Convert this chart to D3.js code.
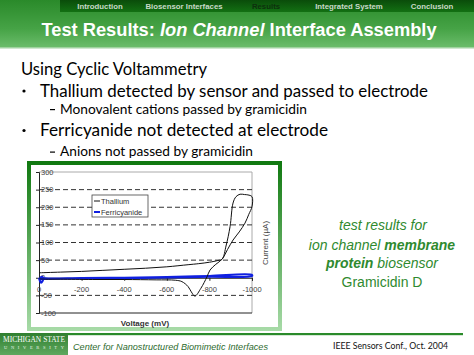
<!DOCTYPE html>
<html><head><meta charset="utf-8">
<script src="https://cdn.jsdelivr.net/npm/d3@7"></script>
<style>html,body{margin:0;padding:0;background:#fff;}svg{display:block;}</style>
</head><body>
<script>
// ---- data ----
const navItems = ["Introduction","Biosensor Interfaces","Results","Integrated System","Conclusion"];
const xTicks = [0,-200,-400,-600,-800,-1000];
const yTicks = [300,250,200,150,100,50,0,-50,-100];
const gridValues = [250,200,150,100,50,-50];
const thalliumV = [0,-100,-200,-300,-400,-500,-600,-700,-750,-800,-840,-860,-878,-897,-911,-925,-944,-965,-981,-1000,-1000,-985,-967,-940,-911,-885,-860,-830,-803,-789,-760,-732,-715,-700,-671,-640,-550,-400,-250,-100,-30,0];
const thalliumI = [14,16,18,21,24,27,31,37,40,44,49,53,90,145,212,230,237,236,235,230,202,180,155,130,107,80,53,38,22,3,-30,-52,-40,-25,-11,-7,-6,-5,-5,-4,-4,-3];
const ferriV = [0,-4,-10,-16,-20,-15,-8,-30,-200,-400,-600,-800,-1000,-1000,-800,-600,-400,-200,0];
const ferriI = [0,-8,-14,-10,-2,3,1,-2,-1,0,2,5,8,5,3,1,-1,-2,-3];
const legendLabels = ["Thallium","Ferricyanide"];

const W = 474, H = 355;
const svg = d3.select("body").append("svg").attr("width",W).attr("height",H);
const defs = svg.append("defs");
function vgrad(id, stops){
  const g = defs.append("linearGradient").attr("id",id).attr("x1",0).attr("y1",0).attr("x2",0).attr("y2",1);
  stops.forEach(s=>g.append("stop").attr("offset",s[0]).attr("stop-color",s[1]));
}
vgrad("navG",[[0,"#0a4c0a"],[1,"#137013"]]);
vgrad("titleG",[[0,"#2a8a2a"],[0.6,"#46a346"],[1,"#6cbd6c"]]);
vgrad("boxG",[[0,"#0f780f"],[1,"#a8dba8"]]);
vgrad("logoG",[[0,"#2f7f2f"],[1,"#5fa85f"]]);

// ---- header ----
svg.append("rect").attr("x",0).attr("y",0).attr("width",W).attr("height",48).attr("fill","url(#titleG)");
svg.append("rect").attr("x",60).attr("y",0).attr("width",W-60).attr("height",12).attr("fill","url(#navG)");
const navX = [100,184,266,349,432];
svg.selectAll("text.nav").data(navItems).join("text").attr("class","nav")
  .attr("x",(d,i)=>navX[i]).attr("y",9).attr("text-anchor","middle")
  .attr("font-family","Liberation Sans, Arial, sans-serif").attr("font-weight","bold").attr("font-size",7.8)
  .attr("fill",d=>d==="Results"?"#0d300d":"#c9d9c9").text(d=>d);
const title = svg.append("text").attr("x",239).attr("y",36).attr("text-anchor","middle")
  .attr("font-family","Liberation Sans, Arial, sans-serif").attr("font-weight","bold").attr("font-size",18.3).attr("fill","#fff");
title.append("tspan").text("Test Results: ");
title.append("tspan").attr("font-style","italic").text("Ion Channel");
title.append("tspan").text(" Interface Assembly");
svg.append("rect").attr("x",0).attr("y",47).attr("width",W).attr("height",1.5).attr("fill","#9fd29f");

// ---- body text ----
const bodyFont = "Comic Sans MS, Lato, sans-serif";
const lines = [
  {t:"Using Cyclic Voltammetry", x:21, y:75, len:186, fs:17},
  {t:"Thallium detected by sensor and passed to electrode", x:40, y:96.5, len:388, fs:17},
  {t:"Monovalent cations passed by gramicidin", x:60, y:113.5, len:247, fs:13},
  {t:"Ferricyanide not detected at electrode", x:40, y:136, len:288, fs:17},
  {t:"Anions not passed by gramicidin", x:60, y:156, len:193, fs:13}
];
svg.selectAll("text.body").data(lines).join("text").attr("class","body")
  .attr("x",d=>d.x).attr("y",d=>d.y).attr("font-family",bodyFont).attr("font-size",d=>d.fs)
  .attr("textLength",d=>d.len).attr("lengthAdjust","spacingAndGlyphs").attr("fill","#000").text(d=>d.t);
[96.5,136].forEach(y=>svg.append("circle").attr("cx",24).attr("cy",y-5.5).attr("r",1.6).attr("fill","#000"));
[113.5,156].forEach(y=>svg.append("rect").attr("x",50).attr("y",y-4.5).attr("width",5).attr("height",1.2).attr("fill","#000"));

// ---- chart box ----
svg.append("rect").attr("x",27).attr("y",161).attr("width",255).attr("height",170).attr("fill","url(#boxG)");
svg.append("rect").attr("x",31).attr("y",165).attr("width",247).attr("height",162).attr("fill","#fff");

const x = d3.scaleLinear().domain([0,-1000]).range([39,252]);
const y = d3.scaleLinear().domain([-100,300]).range([313,172]);
const g = svg.append("g");
// plot frame
g.append("line").attr("x1",x(0)).attr("x2",x(-1000)).attr("y1",y(300)).attr("y2",y(300)).attr("stroke","#aaa").attr("stroke-width",1);
g.append("line").attr("x1",x(-1000)).attr("x2",x(-1000)).attr("y1",y(300)).attr("y2",y(-100)).attr("stroke","#aaa").attr("stroke-width",1);
g.append("line").attr("x1",x(0)).attr("x2",x(-1000)).attr("y1",y(-100)).attr("y2",y(-100)).attr("stroke","#222").attr("stroke-width",1);
// grid
g.selectAll("line.grid").data(gridValues).join("line").attr("class","grid")
  .attr("x1",x(0)).attr("x2",x(-1000)).attr("y1",d=>y(d)).attr("y2",d=>y(d))
  .attr("stroke","#333").attr("stroke-width",1).attr("stroke-dasharray","5,3");
// y axis
const yAxis = d3.axisLeft(y).tickValues(yTicks).tickSize(3).tickFormat("");
const ya = g.append("g").attr("transform",`translate(${x(0)},0)`).call(yAxis);
ya.selectAll("path,line").attr("stroke","#222");
g.selectAll("text.ytl").data(yTicks).join("text").attr("class","ytl")
  .attr("x",41).attr("y",d=>y(d)+2.6).attr("font-family","Liberation Sans, Arial, sans-serif")
  .attr("font-size",7.5).attr("fill","#444").text(d=>d);
// x axis at zero
const xAxis = d3.axisBottom(x).tickValues(xTicks).tickSize(3).tickFormat("");
const xa = g.append("g").attr("transform",`translate(0,${y(0)})`).call(xAxis);
xa.selectAll("path,line").attr("stroke","#222");
g.selectAll("text.xtl").data(xTicks).join("text").attr("class","xtl")
  .attr("x",d=>x(d)).attr("y",y(0)+14).attr("text-anchor","middle").attr("font-family","Liberation Sans, Arial, sans-serif")
  .attr("font-size",7.5).attr("fill","#444").text(d=>d);
// axis titles
g.append("text").attr("transform","translate(268,243) rotate(-90)").attr("text-anchor","middle")
  .attr("font-family","Liberation Sans, Arial, sans-serif").attr("font-size",8).attr("fill","#444").text("Current (µA)");
g.append("text").attr("x",145).attr("y",326).attr("text-anchor","middle")
  .attr("font-family","Liberation Sans, Arial, sans-serif").attr("font-weight","bold").attr("font-size",8).attr("fill","#333").text("Voltage (mV)");

// series
const line = d3.line().x(d=>x(d[0])).y(d=>y(d[1])).curve(d3.curveCatmullRom.alpha(0.5));
g.append("path").datum(ferriV.map((v,i)=>[v,ferriI[i]])).attr("d",line)
  .attr("fill","none").attr("stroke","#1020e0").attr("stroke-width",2.2);
g.append("path").datum(thalliumV.map((v,i)=>[v,thalliumI[i]])).attr("d",line)
  .attr("fill","none").attr("stroke","#111").attr("stroke-width",1);

// legend
const lg = g.append("g");
lg.append("rect").attr("x",92).attr("y",195).attr("width",56).attr("height",22).attr("fill","#fff").attr("stroke","#444").attr("stroke-width",0.8);
const legColors = ["#111","#1020e0"], legW=[1,2];
legendLabels.forEach((l,i)=>{
  lg.append("line").attr("x1",94).attr("x2",100).attr("y1",201+i*11).attr("y2",201+i*11).attr("stroke",legColors[i]).attr("stroke-width",legW[i]);
  lg.append("text").attr("x",101).attr("y",204+i*11).attr("font-family","Liberation Sans, Arial, sans-serif").attr("font-size",7.5).attr("fill","#333").text(l);
});

// ---- right text ----
const rf = "Liberation Sans, Arial, sans-serif", rc = "#2f8a2f";
const r1 = svg.append("text").attr("x",383).attr("y",230).attr("text-anchor","middle").attr("font-family",rf).attr("font-size",14).attr("fill",rc).attr("font-style","italic").text("test results for");
const r2 = svg.append("text").attr("x",382).attr("y",250).attr("text-anchor","middle").attr("font-family",rf).attr("font-size",14).attr("fill",rc);
r2.append("tspan").attr("font-style","italic").text("ion channel ");
r2.append("tspan").attr("font-style","italic").attr("font-weight","bold").text("membrane");
const r3 = svg.append("text").attr("x",382).attr("y",268).attr("text-anchor","middle").attr("font-family",rf).attr("font-size",14).attr("fill",rc);
r3.append("tspan").attr("font-style","italic").attr("font-weight","bold").text("protein");
r3.append("tspan").attr("font-style","italic").text(" biosensor");
svg.append("text").attr("x",382).attr("y",287).attr("text-anchor","middle").attr("font-family",rf).attr("font-size",14).attr("fill",rc).text("Gramicidin D");

// ---- footer ----
svg.append("rect").attr("x",0).attr("y",333).attr("width",68).attr("height",22).attr("fill","url(#logoG)");
svg.append("rect").attr("x",68).attr("y",333).attr("width",395).attr("height",2.2).attr("fill","#2a8a2a");
svg.append("text").attr("x",34).attr("y",342).attr("text-anchor","middle").attr("font-family","Liberation Serif, Times New Roman, serif")
  .attr("font-size",8).attr("fill","#fff").attr("textLength",62).attr("lengthAdjust","spacingAndGlyphs").text("MICHIGAN STATE");
svg.append("text").attr("x",34).attr("y",348.5).attr("text-anchor","middle").attr("font-family","Liberation Serif, Times New Roman, serif")
  .attr("font-size",4.5).attr("fill","#e8f4e8").attr("textLength",60).attr("lengthAdjust","spacing").text("UNIVERSITY");
svg.append("text").attr("x",73).attr("y",350).attr("font-family","Liberation Sans, Arial, sans-serif").attr("font-style","italic")
  .attr("font-size",9.5).attr("fill","#2e6b2e").attr("textLength",195).attr("lengthAdjust","spacingAndGlyphs").text("Center for Nanostructured Biomimetic Interfaces");
svg.append("text").attr("x",333).attr("y",349).attr("font-family",bodyFont).attr("font-size",9.5).attr("fill","#111")
  .attr("textLength",115).attr("lengthAdjust","spacingAndGlyphs").text("IEEE Sensors Conf., Oct. 2004");
</script>
</body></html>
